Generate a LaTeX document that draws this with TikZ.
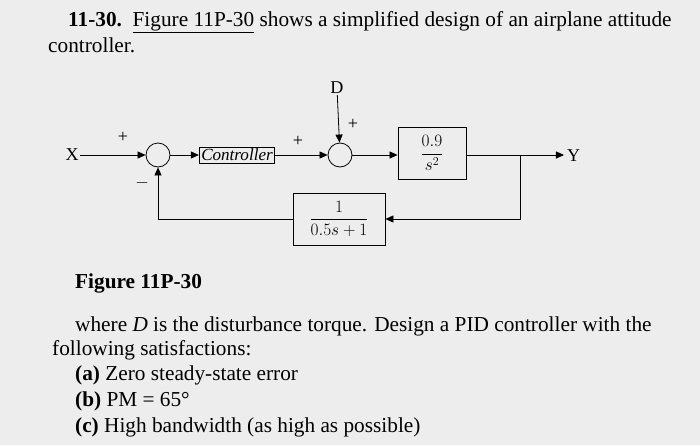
\documentclass[tikz,border=0pt]{standalone}
\usepackage{fontspec}
\setmainfont{Liberation Serif}
\usetikzlibrary{arrows.meta}
\begin{document}
\begin{tikzpicture}[x=0.035cm,y=-0.035cm,
  txt/.style={anchor=west,inner sep=0pt,font=\fontsize{21.2}{24}\selectfont},
  blk/.style={draw,thick,inner sep=2pt,font=\fontsize{17}{19}\selectfont},
  sumc/.style={draw,thick,circle,minimum size=24*0.035cm,inner sep=0pt},
  sig/.style={thick,-{Triangle[length=8pt,width=7pt]}},
  lab/.style={font=\fontsize{18}{20}\selectfont,inner sep=1pt}]
\fill[white!93!black] (0,0) rectangle (700,445);
\useasboundingbox (0,0) rectangle (700,445);
\node[txt] (t1) at (68,22) {\textbf{11-30.}\ \ \underline{Figure 11P-30} shows a simplified design of an airplane attitude};
\node[txt] (t2) at (48,45) {controller.};
% diagram
\node[lab,anchor=east] (X) at (80,155) {X};
\node[sumc] (s1) at (158,155) {};
\node[blk,font=\fontsize{17}{19}\selectfont\itshape] (c) at (237,155) {Controller};
\node[sumc] (s2) at (340,155) {};
\node[lab] (D) at (337,88) {D};
\node[blk,minimum width=68*0.035cm,minimum height=52*0.035cm] (g) at (432,153) {$\displaystyle\frac{0.9}{s^2}$};
\node[blk,minimum width=92*0.035cm,minimum height=52*0.035cm] (h) at (339,219) {$\displaystyle\frac{1}{0.5s+1}$};
\node[lab,anchor=west] (Y) at (566,156) {Y};
\coordinate (br) at (520,155);
\coordinate (fb) at (520,219);
\coordinate (fl) at (158,219);
\coordinate (ye) at (564,155);
\draw[sig] (X) -- (s1);
\draw[sig] (s1) -- (c);
\draw[sig] (c) -- (s2);
\draw[sig] (D) -- (s2);
\draw[sig] (s2) -- (g.west|-s2);
\draw[sig] (g.east|-br) -- (ye);
\draw[sig] (br) -- (fb) -- (h.east|-fb);
\draw[sig] (h.west|-fl) -- (fl) -- (s1);
\node[lab] at (123,137) {+};
\node[lab] at (142,183) {$-$};
\node[lab] at (298,141) {+};
\node[lab] at (353,124) {+};
% text
\node[txt] (f) at (75,283) {\textbf{Figure 11P-30}};
\node[txt] (p1) at (75,326) {where \textit{D} is the disturbance torque. Design a PID controller with the};
\node[txt] (p2) at (52,350) {following satisfactions:};
\node[txt] (a) at (75,375) {\textbf{(a)} Zero steady-state error};
\node[txt] (b) at (75,401) {\textbf{(b)} PM = 65°};
\node[txt] (cc) at (75,427) {\textbf{(c)} High bandwidth (as high as possible)};
\end{tikzpicture}
\end{document}
